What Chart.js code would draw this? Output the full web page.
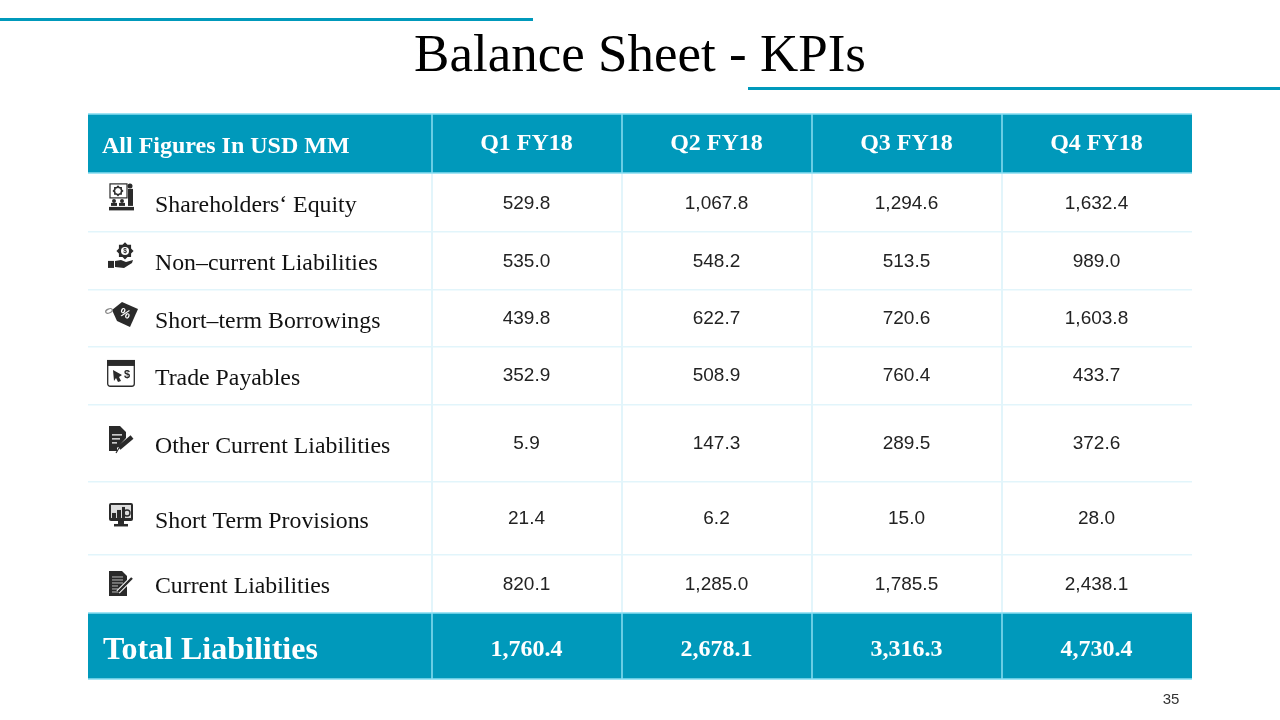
<!DOCTYPE html>
<html>
<head>
<meta charset="utf-8">
<title>Balance Sheet - KPIs</title>
<script src="https://cdn.jsdelivr.net/npm/chart.js@4"></script>
<style>
  html, body { margin: 0; padding: 0; background: #fff; }
  #table { display: block; }
</style>
</head>
<body>
<canvas id="table" width="1280" height="720"></canvas>
<script>
// table content
const quarters = ["Q1 FY18", "Q2 FY18", "Q3 FY18", "Q4 FY18"];
const rowNames = [
  "Shareholders‘ Equity",
  "Non–current Liabilities",
  "Short–term Borrowings",
  "Trade Payables",
  "Other Current Liabilities",
  "Short Term Provisions",
  "Current Liabilities",
];
const q1Values = [529.8, 535.0, 439.8, 352.9, 5.9, 21.4, 820.1];
const q2Values = [1067.8, 548.2, 622.7, 508.9, 147.3, 6.2, 1285.0];
const q3Values = [1294.6, 513.5, 720.6, 760.4, 289.5, 15.0, 1785.5];
const q4Values = [1632.4, 989.0, 1603.8, 433.7, 372.6, 28.0, 2438.1];
const totalValues = [1760.4, 2678.1, 3316.3, 4730.4];
const cornerLabel = "All Figures In USD MM";
const totalLabel = "Total Liabilities";
const titleText = "Balance Sheet - KPIs";
const pageNumber = "35";

// layout, in table units (1 unit = 1 px, origin at the top left of the table)
const columnEdges = [0, 344, 534, 724, 914, 1104];
const rowEdges = [0, 59, 118, 176, 233, 291, 368, 441, 499, 565];
const valueRowY = [90, 148, 205, 262, 330, 405, 471];
const nameRowY = [92, 150, 208, 265, 333, 408, 473];
const iconBoxes = [[21, 69], [20, 129], [17, 188], [19, 246], [21, 312], [21, 389], [21, 457]];

const TEAL = "#0099bb";
const PALE = "#e2f5fb";
const EDGE = "#8adef2";

const fmt = (v) => v.toLocaleString("en-US", { minimumFractionDigits: 1, maximumFractionDigits: 1 });
const colCenter = (i) => (columnEdges[i + 1] + columnEdges[i + 2]) / 2 - 0.5;

function textDataset(points, labels, font, color, align) {
  return {
    type: "scatter",
    data: points,
    pointRadius: 0,
    showLine: false,
    cellLabels: labels,
    cellFont: font,
    cellColor: color,
    cellAlign: align || "center",
  };
}

function bandDataset(top, bottom) {
  return {
    type: "line",
    order: 2,
    data: [{ x: 0, y: top }, { x: 1104, y: top }],
    borderColor: TEAL,
    borderWidth: 0,
    pointRadius: 0,
    backgroundColor: TEAL,
    fill: { value: bottom },
  };
}

// separators on top of the teal bands
const bandLines = [];
for (const x of columnEdges.slice(1, 5)) {
  bandLines.push({ x, y: rowEdges[0] }, { x, y: rowEdges[1] }, { x: null, y: null });
  bandLines.push({ x, y: rowEdges[8] }, { x, y: rowEdges[9] }, { x: null, y: null });
}
for (const y of [rowEdges[0], rowEdges[1], rowEdges[8], rowEdges[9]]) {
  bandLines.push({ x: 0, y }, { x: 1104, y }, { x: null, y: null });
}

const datasets = [
  bandDataset(rowEdges[0], rowEdges[1]),
  bandDataset(rowEdges[8], rowEdges[9]),
  {
    type: "line",
    order: 1,
    data: bandLines,
    borderColor: EDGE,
    borderWidth: 1.5,
    pointRadius: 0,
    spanGaps: false,
    clip: 2,
  },
  textDataset(quarters.map((q, i) => ({ x: colCenter(i), y: 30 })), quarters, "bold 24px 'Liberation Serif'", "#ffffff"),
  textDataset([{ x: 14, y: 33 }], [cornerLabel], "bold 24px 'Liberation Serif'", "#ffffff", "left"),
  textDataset(rowNames.map((n, r) => ({ x: 67, y: nameRowY[r] })), rowNames, "23.8px 'Liberation Serif'", "#111111", "left"),
  textDataset([{ x: 15, y: 537 }], [totalLabel], "bold 32px 'Liberation Serif'", "#ffffff", "left"),
  textDataset(totalValues.map((v, i) => ({ x: colCenter(i), y: 536 })), totalValues.map(fmt), "bold 24px 'Liberation Serif'", "#ffffff"),
];
[q1Values, q2Values, q3Values, q4Values].forEach((vals, c) => {
  datasets.push(textDataset(vals.map((v, r) => ({ x: colCenter(c), y: valueRowY[r] })), vals.map(fmt), "19px 'Liberation Sans'", "#222222"));
});

// writes the table text at the points the scales placed
const cellText = {
  id: "cellText",
  afterDatasetsDraw(chart) {
    const ctx = chart.ctx;
    chart.data.datasets.forEach((ds, i) => {
      if (!ds.cellLabels) return;
      ctx.save();
      ctx.font = ds.cellFont;
      ctx.fillStyle = ds.cellColor;
      ctx.textAlign = ds.cellAlign;
      ctx.textBaseline = "middle";
      chart.getDatasetMeta(i).data.forEach((pt, j) => {
        ctx.fillText(ds.cellLabels[j], pt.x, pt.y);
      });
      ctx.restore();
    });
  },
};

// the small pictograms beside the row names
function drawIcon(ctx, n) {
  const dark = "#2a2a2a";
  ctx.fillStyle = dark;
  ctx.strokeStyle = dark;
  ctx.lineWidth = 1.2;
  const gear = (cx, cy, r) => {
    ctx.beginPath();
    for (let i = 0; i < 16; i++) {
      const a = (i / 16) * Math.PI * 2;
      const rr = i % 2 ? r : r * 1.3;
      ctx.lineTo(cx + Math.cos(a) * rr, cy + Math.sin(a) * rr);
    }
    ctx.closePath();
  };
  const text = (t, x, y, size) => {
    ctx.font = "bold " + size + "px 'Liberation Sans'";
    ctx.textAlign = "center";
    ctx.textBaseline = "middle";
    ctx.fillText(t, x, y);
  };
  if (n === 0) {
    ctx.strokeRect(1, 1, 17, 14);
    gear(9, 8, 3.4);
    ctx.lineWidth = 1.6;
    ctx.stroke();
    ctx.beginPath(); ctx.arc(21, 3, 2.5, 0, 7); ctx.fill();
    ctx.fillRect(19, 6, 5, 17);
    ctx.beginPath(); ctx.arc(5, 18, 2, 0, 7); ctx.arc(13, 18, 2, 0, 7); ctx.fill();
    ctx.fillRect(2, 20, 6, 3);
    ctx.fillRect(10, 20, 6, 3);
    ctx.fillRect(0, 24, 25, 3.5);
  } else if (n === 1) {
    gear(17, 8, 6.6);
    ctx.fill();
    ctx.fillStyle = "#fff";
    ctx.beginPath(); ctx.arc(17, 8, 4, 0, 7); ctx.fill();
    ctx.fillStyle = dark;
    text("$", 17, 8.5, 6.5);
    ctx.fillRect(0, 18, 6, 7);
    ctx.beginPath();
    ctx.moveTo(7, 18); ctx.lineTo(13, 17); ctx.lineTo(18, 19); ctx.lineTo(25, 17);
    ctx.lineTo(24, 20); ctx.lineTo(16, 25); ctx.lineTo(7, 24);
    ctx.closePath();
    ctx.fill();
  } else if (n === 2) {
    ctx.beginPath();
    ctx.moveTo(7, 8); ctx.lineTo(17, 0); ctx.lineTo(33, 7); ctx.lineTo(25, 25); ctx.lineTo(12, 19);
    ctx.closePath();
    ctx.fill();
    ctx.strokeStyle = "#888";
    ctx.beginPath(); ctx.ellipse(4, 9, 3.5, 2, -0.4, 0, 7); ctx.stroke();
    ctx.fillStyle = "#fff";
    ctx.save();
    ctx.translate(20, 12);
    ctx.rotate(0.4);
    text("%", 0, 0, 12);
    ctx.restore();
  } else if (n === 3) {
    ctx.lineWidth = 1.3;
    ctx.beginPath(); ctx.roundRect(0.7, 0.7, 26.6, 25.6, 2.5); ctx.stroke();
    ctx.fillRect(0, 0, 28, 6);
    ctx.beginPath();
    ctx.moveTo(6, 10); ctx.lineTo(15, 15); ctx.lineTo(12, 17); ctx.lineTo(14, 21);
    ctx.lineTo(11, 22); ctx.lineTo(9, 18); ctx.lineTo(7, 21);
    ctx.closePath();
    ctx.fill();
    text("$", 20, 15.5, 11);
  } else if (n === 4) {
    ctx.beginPath();
    ctx.moveTo(0, 0); ctx.lineTo(11, 0); ctx.lineTo(17, 6); ctx.lineTo(17, 12);
    ctx.lineTo(8, 22); ctx.lineTo(8, 25); ctx.lineTo(0, 25);
    ctx.closePath();
    ctx.fill();
    ctx.strokeStyle = "#fff";
    ctx.beginPath();
    ctx.moveTo(3, 9); ctx.lineTo(13, 9);
    ctx.moveTo(3, 13); ctx.lineTo(11, 13);
    ctx.moveTo(3, 17); ctx.lineTo(8, 17);
    ctx.stroke();
    ctx.strokeStyle = dark;
    ctx.lineWidth = 4.5;
    ctx.beginPath(); ctx.moveTo(10, 22); ctx.lineTo(23, 11); ctx.stroke();
    ctx.lineWidth = 1.2;
    ctx.beginPath(); ctx.moveTo(7, 27); ctx.lineTo(10, 22); ctx.stroke();
  } else if (n === 5) {
    ctx.beginPath(); ctx.roundRect(0, 0, 24, 18, 2); ctx.fill();
    ctx.fillRect(9, 18, 6, 3);
    ctx.fillRect(5, 21, 14, 2.5);
    ctx.fillStyle = "#ddd";
    ctx.fillRect(2, 2, 20, 13);
    ctx.fillStyle = dark;
    ctx.fillRect(3, 10, 4, 5);
    ctx.fillRect(8, 7, 4, 8);
    ctx.fillRect(13, 4, 3, 11);
    ctx.lineWidth = 1.4;
    ctx.beginPath(); ctx.arc(18, 10, 3, 0, 7); ctx.stroke();
  } else {
    ctx.beginPath();
    ctx.moveTo(0, 0); ctx.lineTo(13, 0); ctx.lineTo(18, 5); ctx.lineTo(18, 25); ctx.lineTo(0, 25);
    ctx.closePath();
    ctx.fill();
    ctx.strokeStyle = "#bbb";
    ctx.lineWidth = 1;
    ctx.beginPath();
    for (let y = 6; y < 22; y += 3) { ctx.moveTo(3, y); ctx.lineTo(y > 12 ? 9 : 14, y); }
    ctx.stroke();
    ctx.strokeStyle = "#fff";
    ctx.lineWidth = 4.5;
    ctx.beginPath(); ctx.moveTo(9, 21); ctx.lineTo(23, 7); ctx.stroke();
    ctx.strokeStyle = dark;
    ctx.lineWidth = 2.4;
    ctx.beginPath(); ctx.moveTo(9, 21); ctx.lineTo(23, 7); ctx.stroke();
  }
}

const decorations = {
  id: "decorations",
  afterDraw(chart) {
    const ctx = chart.ctx;
    const sx = chart.scales.x;
    const sy = chart.scales.y;
    // the two rules around the title and the page number sit outside the table
    ctx.save();
    ctx.fillStyle = TEAL;
    ctx.fillRect(0, 18, 533, 3);
    ctx.fillRect(748, 87, 532, 3);
    ctx.fillStyle = "#333";
    ctx.font = "15px 'Liberation Sans'";
    ctx.textAlign = "center";
    ctx.textBaseline = "middle";
    ctx.fillText(pageNumber, 1171, 700);
    ctx.restore();
    iconBoxes.forEach((box, n) => {
      ctx.save();
      ctx.translate(sx.getPixelForValue(box[0]), sy.getPixelForValue(box[1]));
      drawIcon(ctx, n);
      ctx.restore();
    });
  },
};

new Chart(document.getElementById("table"), {
  data: { datasets },
  plugins: [cellText, decorations],
  options: {
    responsive: false,
    animation: false,
    events: [],
    layout: { padding: { left: 88, right: 88, top: 0, bottom: 41 } },
    plugins: {
      legend: { display: false },
      tooltip: { enabled: false },
      title: {
        display: true,
        text: titleText,
        color: "#000",
        font: { family: "'Liberation Serif'", size: 53, weight: "normal", lineHeight: 1.13 },
        padding: { top: 27, bottom: 27 },
      },
    },
    scales: {
      x: {
        type: "linear",
        min: 0,
        max: 1104,
        afterBuildTicks(axis) {
          axis.ticks = columnEdges.map((value) => ({ value }));
        },
        ticks: { display: false },
        border: { display: false },
        grid: {
          drawTicks: false,
          lineWidth: 2,
          color: (c) => (c.tick && (c.tick.value === 0 || c.tick.value === 1104) ? "rgba(0,0,0,0)" : PALE),
        },
      },
      y: {
        type: "linear",
        reverse: true,
        min: 0,
        max: 565,
        afterBuildTicks(axis) {
          axis.ticks = rowEdges.map((value) => ({ value }));
        },
        ticks: { display: false },
        border: { display: false },
        grid: { drawTicks: false, lineWidth: 1.5, color: PALE },
      },
    },
  },
});
</script>
</body>
</html>
